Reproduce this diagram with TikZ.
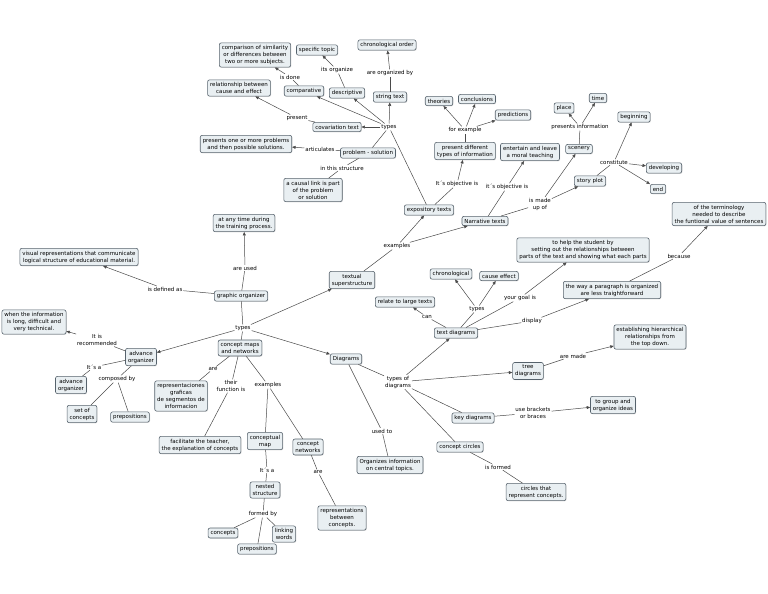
\documentclass[tikz,border=0pt]{standalone}
\usepackage{fontspec}
\setmainfont{DejaVu Sans}
\usetikzlibrary{arrows.meta,shadows}
\definecolor{boxfill}{HTML}{E9EFF2}
\definecolor{boxline}{HTML}{56626C}
\definecolor{linkgray}{HTML}{4A4A4A}

\begin{document}
\begin{tikzpicture}[x=1pt,y=-1pt,
    every node/.style={font=\fontsize{5.5}{7}\selectfont,align=center},
    concept/.style={draw=boxline,rounded corners=2pt,fill=boxfill,inner sep=2.5pt,
                    line width=0.6pt,drop shadow={opacity=0.25,shadow xshift=0.7pt,shadow yshift=-0.7pt}},
    phrase/.style={fill=white,inner sep=0.8pt},
    link/.style={draw=linkgray,line width=0.5pt},
    arr/.style={link,-{Triangle[length=3.5pt,width=3pt]}},
  ]
  \useasboundingbox (0,0) rectangle (768,594);

  % expository texts branch
  \node[concept] (cmpsim) at (255,55) {comparison of similarity\\or differences between\\two or more subjects.};
  \node[concept] (spec) at (317,50) {specific topic};
  \node[concept] (chron) at (387,45) {chronological order};
  \node[concept] (rel) at (239,88) {relationship between\\cause and effect};
  \node[concept] (compar) at (304,91) {comparative};
  \node[concept] (descr) at (347,93) {descriptive};
  \node[concept] (strt) at (390,97) {string text};
  \node[concept] (covar) at (337,127) {covariation text};
  \node[concept] (probs) at (246,144) {presents one or more problems\\and then possible solutions.};
  \node[concept] (psol) at (368,153) {problem - solution};
  \node[concept] (causal) at (313,190) {a causal link is part\\of the problem\\or solution};
  \node[phrase] (isdone) at (290,77) {is done};
  \node[phrase] (itsorg) at (337,70) {its organize};
  \node[phrase] (areorg) at (390,73) {are organized by};
  \node[phrase] (present) at (297,118) {present};
  \node[phrase] (types1) at (389,127) {types};
  \node[phrase] (artic) at (320,149) {articulates};
  \node[phrase] (instr) at (342,168) {in this structure};

  \node[concept] (theo) at (439,101) {theories};
  \node[concept] (concl) at (477,99) {conclusions};
  \node[concept] (pred) at (513,115) {predictions};
  \node[phrase] (forex) at (465,130) {for example};
  \node[concept] (presdiff) at (465,151) {present different\\types of information};
  \node[phrase] (obj1) at (457,184) {It´s objective is};
  \node[concept] (expo) at (429,210) {expository texts};

  % narrative texts branch
  \node[concept] (entert) at (530,152) {entertain and leave\\a moral teaching};
  \node[phrase] (obj2) at (507,187) {it´s objective is};
  \node[concept] (narr) at (485,221) {Narrative texts};
  \node[concept] (place) at (564,108) {place};
  \node[concept] (time) at (598,98) {time};
  \node[phrase] (presinf) at (580,127) {presents information};
  \node[concept] (scen) at (579,149) {scenery};
  \node[concept] (plot) at (590,181) {story plot};
  \node[phrase] (madeup) at (540,204) {is made\\up of};
  \node[concept] (begin) at (634,117) {beginning};
  \node[phrase] (constit) at (614,162) {constitute};
  \node[concept] (devel) at (664,168) {developing};
  \node[concept] (endn) at (658,189) {end};

  % graphic organizer
  \node[phrase] (examples1) at (397,246) {examples};
  \node[concept] (textual) at (352,280) {textual\\superstructure};
  \node[concept] (anytime) at (244,223) {at any time during\\the training process.};
  \node[phrase] (areused) at (245,268) {are used};
  \node[concept] (graph) at (241,296) {graphic organizer};
  \node[concept] (visual) at (79,257) {visual representations that communicate\\logical structure of educational material.};
  \node[phrase] (defined) at (165,289) {is defined as};
  \node[phrase] (types2) at (243,328) {types};

  % advance organizer
  \node[concept] (wheninf) at (34,322) {when the information\\is long, difficult and\\very technical.};
  \node[phrase] (recom) at (97,340) {It is\\recommended};
  \node[concept] (adv) at (141,357) {advance\\organizer};
  \node[phrase] (itsa1) at (94,367) {It´s a};
  \node[concept] (adv2) at (71,385) {advance\\organizer};
  \node[phrase] (compby) at (117,379) {composed by};
  \node[concept] (setc) at (82,414) {set of\\concepts};
  \node[concept] (prep1) at (130,417) {prepositions};

  % concept maps
  \node[concept] (cmaps) at (240,348) {concept maps\\and networks};
  \node[phrase] (are1) at (213,369) {are};
  \node[concept] (repres) at (181,396) {representaciones\\graficas\\de segmentos de\\informacion};
  \node[phrase] (funct) at (231,386) {their\\function is};
  \node[phrase] (examples2) at (268,385) {examples};
  \node[concept] (facil) at (200,445) {facilitate the teacher,\\the explanation of concepts};
  \node[concept] (cmap) at (265,441) {conceptual\\map};
  \node[concept] (cnet) at (308,447) {concept\\networks};
  \node[phrase] (itsa2) at (267,470) {It´s a};
  \node[concept] (nested) at (265,490) {nested\\structure};
  \node[phrase] (formed) at (263,514) {formed by};
  \node[concept] (concs) at (223,533) {concepts};
  \node[concept] (linkw) at (284,534) {linking\\words};
  \node[concept] (prep2) at (257,549) {prepositions};
  \node[phrase] (are2) at (318,472) {are};
  \node[concept] (reprb) at (342,518) {representations\\between\\concepts.};

  % diagrams
  \node[concept] (diag) at (346,359) {Diagrams};
  \node[phrase] (tydiag) at (398,382) {types of\\diagrams};
  \node[phrase] (usedto) at (382,431) {used to};
  \node[concept] (organ) at (390,465) {Organizes information\\on central topics.};
  \node[concept] (circ) at (460,447) {concept circles};
  \node[phrase] (isformed) at (498,467) {is formed};
  \node[concept] (circth) at (536,492) {circles that\\represent concepts.};
  \node[concept] (keyd) at (473,418) {key diagrams};
  \node[phrase] (brack) at (533,413) {use brackets\\or braces};
  \node[concept] (togroup) at (613,405) {to group and\\organize ideas};
  \node[concept] (tree) at (528,371) {tree\\diagrams};
  \node[phrase] (aremade) at (573,356) {are made};
  \node[concept] (estab) at (650,337) {establishing hierarchical\\relationships from\\the top down.};

  % text diagrams
  \node[concept] (textd) at (456,333) {text diagrams};
  \node[concept] (relate) at (405,302) {relate to large texts};
  \node[phrase] (can) at (427,317) {can};
  \node[concept] (chrono) at (451,274) {chronological};
  \node[concept] (cause) at (499,276) {cause effect};
  \node[phrase] (types3) at (477,309) {types};
  \node[phrase] (goal) at (520,298) {your goal is};
  \node[concept] (help) at (583,250) {to help the student by\\setting out the relationships between\\parts of the text and showing what each parts};
  \node[phrase] (display) at (532,321) {display};
  \node[concept] (parag) at (612,290) {the way a paragraph is organized\\are less traightforward};
  \node[phrase] (because) at (679,256) {because};
  \node[concept] (termin) at (719,214) {of the terminology\\needed to describe\\the funtional value of sentences};

  % links
  \draw[link] (expo) -- (types1);
  \foreach \c in {compar,descr,strt,covar} \draw[arr] (types1) -- (\c);
  \draw[link] (types1) -- (psol);
  \draw[link] (compar) -- (isdone);  \draw[arr] (isdone) -- (cmpsim);
  \draw[link] (descr) -- (itsorg);   \draw[arr] (itsorg) -- (spec);
  \draw[link] (strt) -- (areorg);    \draw[arr] (areorg) -- (chron);
  \draw[link] (covar) -- (present);  \draw[arr] (present) -- (rel);
  \draw[link] (psol) -- (artic);     \draw[arr] (artic) -- (probs);
  \draw[link] (psol) -- (instr);     \draw[link] (instr) -- (causal);

  \draw[link] (expo) -- (obj1);      \draw[arr] (obj1) -- (presdiff);
  \draw[link] (presdiff) -- (forex);
  \foreach \c in {theo,concl,pred} \draw[arr] (forex) -- (\c);
  \draw[link] (narr) -- (obj2);      \draw[arr] (obj2) -- (entert);
  \draw[link] (narr) -- (madeup);
  \foreach \c in {scen,plot} \draw[arr] (madeup) -- (\c);
  \draw[link] (scen) -- (presinf);
  \foreach \c in {place,time} \draw[arr] (presinf) -- (\c);
  \draw[link] (plot) -- (constit);
  \foreach \c in {begin,devel,endn} \draw[arr] (constit) -- (\c);

  \draw[link] (textual) -- (examples1);
  \foreach \c in {expo,narr} \draw[arr] (examples1) -- (\c);
  \draw[link] (graph) -- (areused);  \draw[arr] (areused) -- (anytime);
  \draw[link] (graph) -- (defined);  \draw[arr] (defined) -- (visual);
  \draw[link] (graph) -- (types2);
  \foreach \c in {adv,diag,textual} \draw[arr] (types2) -- (\c);
  \draw[link] (types2) -- (cmaps);

  \draw[link] (adv) -- (recom);      \draw[arr] (recom) -- (wheninf);
  \draw[link] (adv) -- (itsa1);      \draw[link] (itsa1) -- (adv2);
  \draw[link] (adv) -- (compby);
  \foreach \c in {setc,prep1} \draw[link] (compby) -- (\c);

  \draw[link] (cmaps) -- (are1);     \draw[link] (are1) -- (repres);
  \draw[link] (cmaps) -- (funct);    \draw[link] (funct) -- (facil);
  \draw[link] (cmaps) -- (examples2);
  \foreach \c in {cmap,cnet} \draw[link] (examples2) -- (\c);
  \draw[link] (cmap) -- (itsa2);     \draw[link] (itsa2) -- (nested);
  \draw[link] (nested) -- (formed);
  \foreach \c in {concs,linkw,prep2} \draw[link] (formed) -- (\c);
  \draw[link] (cnet) -- (are2);      \draw[link] (are2) -- (reprb);

  \draw[link] (diag) -- (tydiag);
  \foreach \c in {textd,tree} \draw[arr] (tydiag) -- (\c);
  \foreach \c in {keyd,circ} \draw[link] (tydiag) -- (\c);
  \draw[link] (diag) -- (usedto);    \draw[link] (usedto) -- (organ);
  \draw[link] (circ) -- (isformed);  \draw[link] (isformed) -- (circth);
  \draw[link] (keyd) -- (brack);     \draw[arr] (brack) -- (togroup);
  \draw[link] (tree) -- (aremade);   \draw[arr] (aremade) -- (estab);

  \draw[link] (textd) -- (can);      \draw[arr] (can) -- (relate);
  \draw[link] (textd) -- (types3);
  \foreach \c in {chrono,cause} \draw[arr] (types3) -- (\c);
  \draw[link] (textd) -- (goal);     \draw[arr] (goal) -- (help);
  \draw[link] (textd) -- (display);  \draw[arr] (display) -- (parag);
  \draw[link] (parag) -- (because);  \draw[arr] (because) -- (termin);
\end{tikzpicture}
\end{document}
